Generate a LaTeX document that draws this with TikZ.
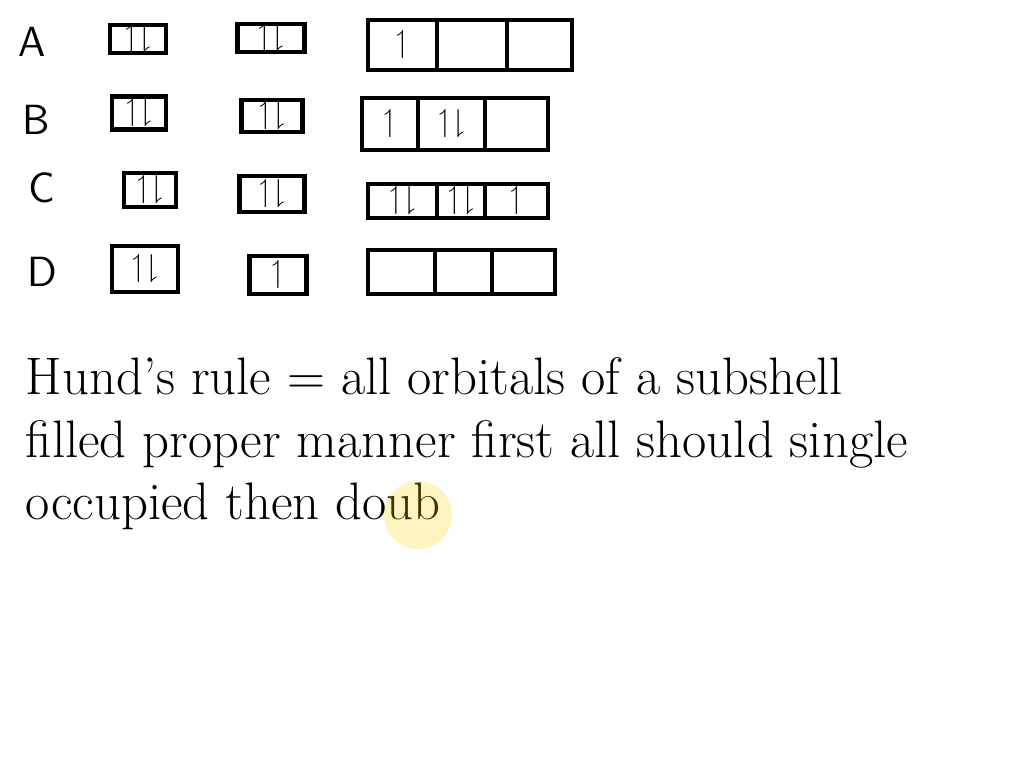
\documentclass[tikz,border=0pt]{standalone}
\usepackage{amsmath}
\usepackage{amssymb}
\usepackage{tikz}
\usetikzlibrary{positioning}

\newcommand{\pairspin}{$\upharpoonleft\downharpoonright$}
\newcommand{\onespin}{$\upharpoonleft$}

\begin{document}
\begin{tikzpicture}[x=0.01cm,y=-0.01cm,
	orb/.style={draw,line width=1.2pt,inner sep=0pt,outer sep=0pt,font=\small},
	rowlbl/.style={font=\large\sffamily},
	hand/.style={anchor=base west,inner sep=0pt,font=\fontsize{15}{18}\selectfont}]
	
		\useasboundingbox (0,0) rectangle (1024,768);
		
		% row labels
		\node[rowlbl] (lblA) at (32,42) {A};
		\node[rowlbl] (lblB) at (36,120) {B};
		\node[rowlbl] (lblC) at (42,188) {C};
		\node[rowlbl] (lblD) at (42,272) {D};
		
		% row A
		\node[orb,minimum width=0.56cm,minimum height=0.25cm] (A1) at (138,39) {\pairspin};
		\node[orb,minimum width=0.67cm,minimum height=0.28cm] (A2) at (271,38) {\pairspin};
		\node[orb,minimum width=0.69cm,minimum height=0.5cm,anchor=west] (Ap1) at (368,45) {\onespin};
		\node[orb,minimum width=0.70cm,minimum height=0.5cm,right=0pt of Ap1] (Ap2) {};
		\node[orb,minimum width=0.65cm,minimum height=0.5cm,right=0pt of Ap2] (Ap3) {};
		
		% row B
		\node[orb,minimum width=0.54cm,minimum height=0.33cm] (B1) at (139,113) {\pairspin};
		\node[orb,minimum width=0.61cm,minimum height=0.32cm] (B2) at (272,116) {\pairspin};
		\node[orb,minimum width=0.56cm,minimum height=0.52cm,anchor=west] (Bp1) at (362,124) {\onespin};
		\node[orb,minimum width=0.67cm,minimum height=0.52cm,right=0pt of Bp1] (Bp2) {\pairspin};
		\node[orb,minimum width=0.63cm,minimum height=0.52cm,right=0pt of Bp2] (Bp3) {};
		
		% row C
		\node[orb,minimum width=0.52cm,minimum height=0.34cm] (C1) at (150,190) {\pairspin};
		\node[orb,minimum width=0.65cm,minimum height=0.36cm] (C2) at (272,194) {\pairspin};
		\node[orb,minimum width=0.69cm,minimum height=0.34cm,anchor=west] (Cp1) at (368,201) {\pairspin};
		\node[orb,minimum width=0.48cm,minimum height=0.34cm,right=0pt of Cp1] (Cp2) {\pairspin};
		\node[orb,minimum width=0.63cm,minimum height=0.34cm,right=0pt of Cp2] (Cp3) {\onespin};
		
		% row D
		\node[orb,minimum width=0.66cm,minimum height=0.46cm] (D1) at (145,269) {\pairspin};
		\node[orb,minimum width=0.57cm,minimum height=0.38cm] (D2) at (278,275) {\onespin};
		\node[orb,minimum width=0.67cm,minimum height=0.44cm,anchor=west] (Dp1) at (368,272) {};
		\node[orb,minimum width=0.57cm,minimum height=0.44cm,right=0pt of Dp1] (Dp2) {};
		\node[orb,minimum width=0.63cm,minimum height=0.44cm,right=0pt of Dp2] (Dp3) {};
		
		% note
		\node[hand] (rule1) at (25,395) {Hund's rule = all orbitals of a subshell};
		\node[hand] (rule2) at (25,458) {filled proper manner first all should single};
		\node[hand] (rule3) at (25,520) {occupied then doub};
		
		\fill[yellow!70!orange,opacity=0.25] (418,515) circle (0.34cm);
		
\end{tikzpicture}
\end{document}
